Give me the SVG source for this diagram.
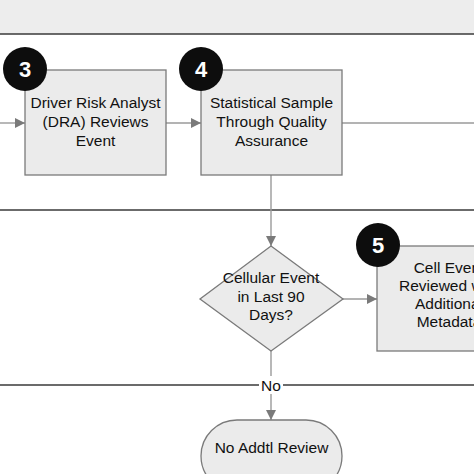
<svg xmlns="http://www.w3.org/2000/svg" width="474" height="474" viewBox="0 0 474 474">
<defs>
<style>
.lane{stroke:#3a3a3a;stroke-width:1.3;fill:none}
.box{fill:#ebebeb;stroke:#7a7a7a;stroke-width:1.3}
.con{stroke:#9a9a9a;stroke-width:1.4;fill:none}
.txt{font-family:"Liberation Sans",Arial,sans-serif;font-size:15.5px;fill:#111;text-anchor:middle}
.badge{fill:#0d0d0d}
.num{font-family:"Liberation Sans",Arial,sans-serif;font-size:22px;font-weight:bold;fill:#fff;text-anchor:middle}
</style>
<marker id="arr" viewBox="0 0 10 10" refX="10" refY="5" markerWidth="10" markerHeight="10" markerUnits="userSpaceOnUse" orient="auto">
<path d="M0,0 L10,5 L0,10 z" fill="#7a7a7a"/>
</marker>
</defs>
<rect x="0" y="0" width="474" height="474" fill="#fff"/>
<rect x="0" y="0" width="474" height="34" fill="#ededed"/>
<g id="lanes">
<line class="lane" x1="0" y1="34" x2="474" y2="34"/>
<line class="lane" x1="0" y1="210" x2="474" y2="210"/>
<line class="lane" x1="0" y1="385" x2="474" y2="385"/>
</g>
<g id="connectors">
<line class="con" x1="0" y1="123" x2="25" y2="123" marker-end="url(#arr)"/>
<line class="con" x1="166" y1="123" x2="201" y2="123" marker-end="url(#arr)"/>
<line class="con" x1="342" y1="123" x2="474" y2="123"/>
<line class="con" x1="271" y1="175" x2="271" y2="246" marker-end="url(#arr)"/>
<line class="con" x1="343" y1="299" x2="377" y2="299" marker-end="url(#arr)"/>
<line class="con" x1="271" y1="351" x2="271" y2="420" marker-end="url(#arr)"/>
<rect x="259" y="376" width="24" height="18" fill="#fff"/>
<text class="txt" x="271" y="391">No</text>
</g>
<g id="node3">
<rect class="box" x="25" y="70" width="141" height="105"/>
<text class="txt" x="95.5" y="108">Driver Risk Analyst</text>
<text class="txt" x="95.5" y="127">(DRA) Reviews</text>
<text class="txt" x="95.5" y="146">Event</text>
<circle class="badge" cx="25" cy="69" r="22"/>
<text class="num" x="25" y="77">3</text>
</g>
<g id="node4">
<rect class="box" x="201" y="70" width="141" height="105"/>
<text class="txt" x="271.5" y="108">Statistical Sample</text>
<text class="txt" x="271.5" y="127">Through Quality</text>
<text class="txt" x="271.5" y="146">Assurance</text>
<circle class="badge" cx="201" cy="69" r="22"/>
<text class="num" x="201" y="77">4</text>
</g>
<g id="decision">
<polygon class="box" points="271,246 343,299 271,351 200,299"/>
<text class="txt" x="271" y="283">Cellular Event</text>
<text class="txt" x="271" y="302">in Last 90</text>
<text class="txt" x="271" y="320">Days?</text>
</g>
<g id="node5">
<rect class="box" x="377" y="246" width="141" height="105"/>
<text class="txt" x="449" y="273">Cell Event</text>
<text class="txt" x="449" y="291">Reviewed with</text>
<text class="txt" x="449" y="309">Additional</text>
<text class="txt" x="449" y="327">Metadata</text>
<circle class="badge" cx="378" cy="245" r="22"/>
<text class="num" x="378" y="253">5</text>
</g>
<g id="terminal">
<rect class="box" x="201" y="420" width="141" height="72" rx="36" ry="36"/>
<text class="txt" x="271.5" y="453">No Addtl Review</text>
</g>
</svg>
